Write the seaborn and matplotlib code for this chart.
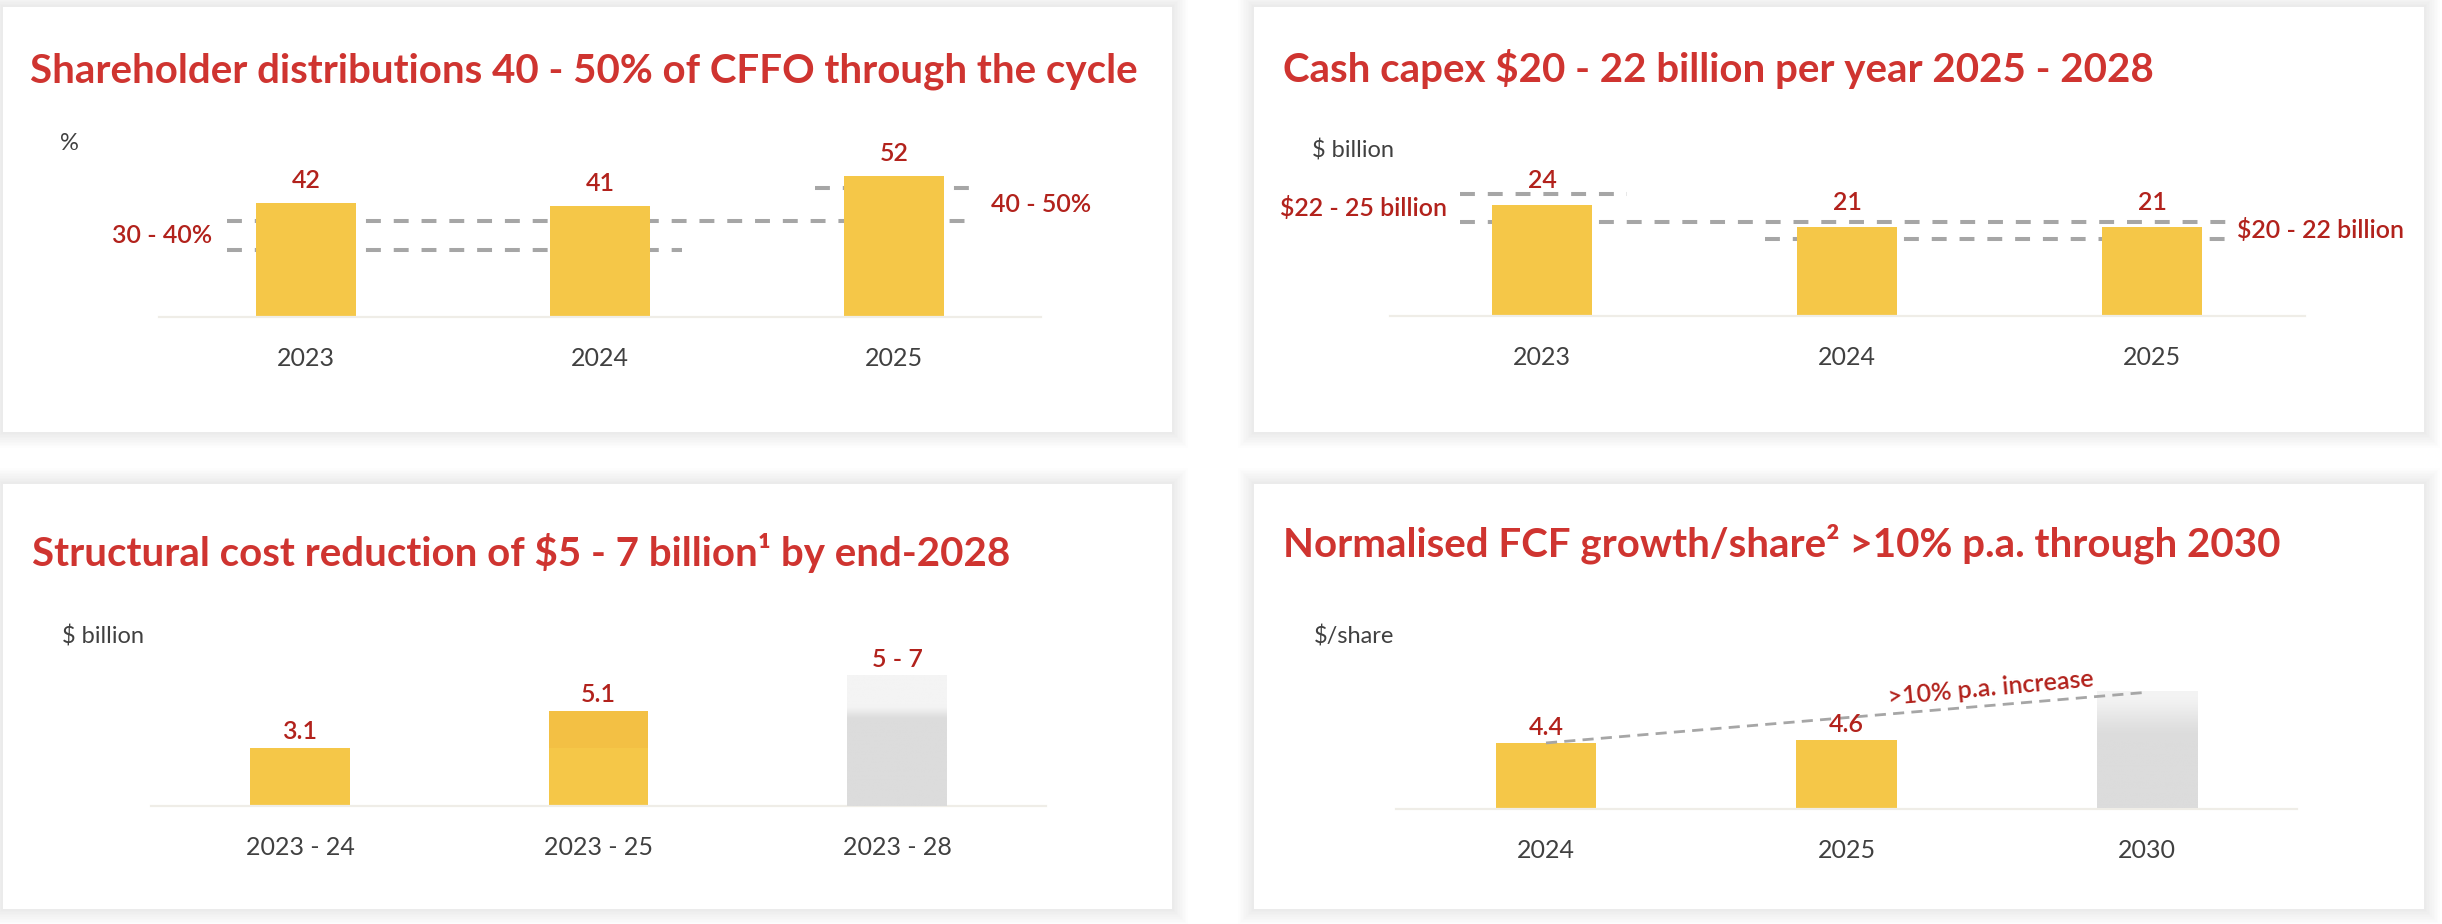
import numpy as np
import matplotlib
matplotlib.use("Agg")
import matplotlib.pyplot as plt
from matplotlib.patches import Rectangle
import seaborn as sns

# ============================================================
# DATA
# ============================================================
dist_years = ['2023', '2024', '2025']
dist_pct = [42, 41, 52]
dist_guides = [24.7, 35.5, 47.5]          # dashed marks drawn for 30 / 40 / 50 %
dist_guide_span = [(0, 1), (0, 2), (2, 2)]

capex_years = ['2023', '2024', '2025']
capex_bn = [24, 21, 21]
capex_guides = [25.5, 21.7, 19.4]         # dashed marks drawn for 25 / 22 / 20
capex_guide_span = [(0, 0), (0, 2), (1, 2)]

cost_periods = ['2023 - 24', '2023 - 25', '2023 - 28']
cost_bn = [3.1, 5.1, 7.0]
cost_text = ['3.1', '5.1', '5 - 7']

fcf_years = ['2024', '2025', '2030']
fcf_share = [4.4, 4.6, 7.8]
fcf_text = ['4.4', '4.6', '']

# ============================================================
# STYLE
# ============================================================
sns.set_theme(style="white")
plt.rcParams['font.family'] = ['Lato', 'DejaVu Sans']

W, H = 2442, 924
YELLOW = '#F5C748'
YELLOW_DARK = '#F3C044'
GREY_BAR = '#DCDCDC'
GREY_LIGHT = '#F4F4F4'
GUIDE = '#A6A6A6'
TITLE_RED = '#CF3430'
LABEL_RED = '#B2221C'
TEXT = '#404040'
AXIS = '#EFEDE7'


def fx(x):
    return x / W


def fy(y):
    return 1 - y / H


fig = plt.figure(figsize=(W / 100, H / 100), dpi=100)
fig.patch.set_facecolor('white')


def card(x0, y0, x1, y1):
    # weiche Schatten-Kante um die Karte
    for i in range(10, 0, -1):
        fig.patches.append(Rectangle((fx(x0 - i * 1.6), fy(y1 + i * 1.6)),
                                     (x1 - x0 + i * 3.2) / W, (y1 - y0 + i * 3.2) / H,
                                     transform=fig.transFigure, facecolor='black',
                                     edgecolor='none', alpha=0.008, zorder=-3))
    fig.patches.append(Rectangle((fx(x0), fy(y1)), (x1 - x0) / W, (y1 - y0) / H,
                                 transform=fig.transFigure, facecolor='white',
                                 edgecolor='none', zorder=-2))


def panel(x0, x1, base, top, k, ymin=0.0):
    ax = fig.add_axes([fx(x0), fy(base), (x1 - x0) / W, (base - top) / H])
    ax.set_facecolor('none')
    ax.set_zorder(2)
    return ax, (ymin, ymin + (base - top) / k)


def finish(ax, ylim, labels):
    ax.set_xlim(-0.5, 2.5)
    ax.set_ylim(*ylim)
    for s in ['top', 'right', 'left']:
        ax.spines[s].set_visible(False)
    ax.spines['bottom'].set_color(AXIS)
    ax.spines['bottom'].set_linewidth(1.6)
    ax.set_yticks([])
    ax.set_xticks(range(len(labels)))
    ax.set_xticklabels(labels, fontsize=18, color=TEXT, fontweight='normal')
    ax.tick_params(axis='x', length=0, pad=30)
    for t in ax.get_xticklabels():
        t.set_va('center')
    ax.set_xlabel('')
    ax.set_ylabel('')


def values(ax, vals, texts, off):
    for i, (v, t) in enumerate(zip(vals, texts)):
        ax.annotate(t, xy=(i, v), xytext=(0, off), textcoords='offset points',
                    ha='center', va='center', fontsize=18, color=LABEL_RED,
                    fontweight='semibold', zorder=5)


def guides(ax, levels, spans):
    for lvl, (a, b) in zip(levels, spans):
        ax.hlines(lvl, a - 0.27, b + 0.28, colors=GUIDE, linewidth=2.9,
                  linestyles=(0, (3.7, 3.2)), zorder=1)


def fade_bar(ax, idx, v_lo, v_hi):
    p = ax.patches[idx]
    x0, w, h = p.get_x(), p.get_width(), p.get_height()
    yy = np.linspace(0, h, 300)
    t = np.clip((yy - v_lo) / (v_hi - v_lo), 0, 1)
    t = t * t * (3 - 2 * t)
    c0 = np.array(matplotlib.colors.to_rgb(GREY_BAR))
    c1 = np.array(matplotlib.colors.to_rgb(GREY_LIGHT))
    img = (c0[None, :] * (1 - t[:, None]) + c1[None, :] * t[:, None])[:, None, :]
    ax.imshow(img, extent=[x0, x0 + w, 0, h], origin='lower', aspect='auto', zorder=3)


def range_label(ax, x, y, s, ha):
    ax.text(x, y, s, ha=ha, va='center', fontsize=18, color=LABEL_RED,
            fontweight='semibold')


def title(x, y, s):
    fig.text(fx(x), fy(y), s, fontsize=29, fontweight='bold', color=TITLE_RED,
             ha='left', va='baseline')


def unit(x, y, s):
    fig.text(fx(x), fy(y), s, fontsize=17, fontweight='normal', color=TEXT,
             ha='left', va='center')


# Karten
card(3, 7, 1172, 432)
card(1254, 7, 2424, 432)
card(3, 484, 1172, 909)
card(1254, 484, 2424, 909)

# ============================================================
# PANEL 1: SHAREHOLDER DISTRIBUTIONS
# ============================================================
ax1, yl1 = panel(159, 1041, 317, 100, 2.71)
sns.barplot(x=dist_years, y=dist_pct, ax=ax1, color=YELLOW, saturation=1,
            width=0.34, linewidth=0, zorder=2)
guides(ax1, dist_guides, dist_guide_span)
values(ax1, dist_pct, [str(v) for v in dist_pct], 16)
range_label(ax1, -0.32, (dist_guides[0] + dist_guides[1]) / 2, '30 - 40%', 'right')
range_label(ax1, 2.33, (dist_guides[1] + dist_guides[2]) / 2, '40 - 50%', 'left')
finish(ax1, yl1, dist_years)
title(30, 83, 'Shareholder distributions 40 - 50% of CFFO through the cycle')
unit(60, 144, '%')

# ============================================================
# PANEL 2: CASH CAPEX
# ============================================================
ax2, yl2 = panel(1389.5, 2304.5, 316, 100, 7.33, ymin=8.86)
sns.barplot(x=capex_years, y=capex_bn, ax=ax2, color=YELLOW, saturation=1,
            width=0.33, linewidth=0, zorder=2)
guides(ax2, capex_guides, capex_guide_span)
values(ax2, capex_bn, [str(v) for v in capex_bn], 18)
range_label(ax2, -0.31, (capex_guides[0] + capex_guides[1]) / 2, r'\$22 - 25 billion', 'right')
range_label(ax2, 2.28, (capex_guides[1] + capex_guides[2]) / 2, r'\$20 - 22 billion', 'left')
finish(ax2, yl2, capex_years)
title(1283, 82, r'Cash capex \$20 - 22 billion per year 2025 - 2028')
unit(1312, 150, r'\$ billion')

# ============================================================
# PANEL 3: STRUCTURAL COST REDUCTION
# ============================================================
ax3, yl3 = panel(150.75, 1046.25, 806, 600, 18.6)
sns.barplot(x=cost_periods, y=cost_bn, hue=cost_periods, ax=ax3,
            palette=[YELLOW, YELLOW, GREY_BAR], saturation=1, width=0.335,
            linewidth=0, legend=False, zorder=2)
# Zuwachs 2023-25 gegenüber 2023-24 etwas dunkler
ax3.bar(1, cost_bn[1] - cost_bn[0], bottom=cost_bn[0], width=0.335,
        color=YELLOW_DARK, linewidth=0, edgecolor='none', zorder=2.5)
fade_bar(ax3, 2, 4.6, 5.4)
values(ax3, cost_bn, cost_text, 12)
finish(ax3, yl3, cost_periods)
title(32, 566, r'Structural cost reduction of \$5 - 7 billion¹ by end-2028')
unit(62, 637, r'\$ billion')

# ============================================================
# PANEL 4: NORMALISED FCF / SHARE
# ============================================================
ax4, yl4 = panel(1395.75, 2297.25, 808.5, 600, 14.9)
sns.barplot(x=fcf_years, y=fcf_share, hue=fcf_years, ax=ax4,
            palette=[YELLOW, YELLOW, GREY_BAR], saturation=1, width=0.333,
            linewidth=0, legend=False, zorder=2)
fade_bar(ax4, 2, 4.6, 7.8)
ax4.plot([0, 2], [fcf_share[0], fcf_share[2]], color=GUIDE, linewidth=2.0,
         linestyle=(0, (4, 2.6)), zorder=4)
values(ax4, fcf_share, fcf_text, 11)
ax4.text(1.48, 8.05, '>10% p.a. increase', rotation=5.2, rotation_mode='anchor',
         ha='center', va='center', fontsize=18, color=LABEL_RED, fontweight='semibold')
finish(ax4, yl4, fcf_years)
title(1283, 557, 'Normalised FCF growth/share² >10% p.a. through 2030')
unit(1314, 637, r'\$/share')

plt.savefig('out.png', dpi=100, facecolor='white')
